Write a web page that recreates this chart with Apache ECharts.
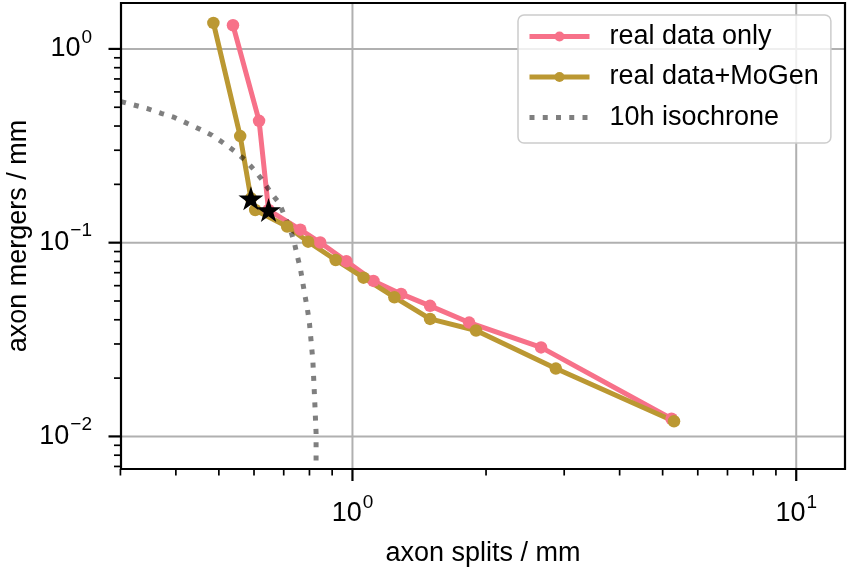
<!DOCTYPE html>
<html><head><meta charset="utf-8">
<script src="https://cdn.jsdelivr.net/npm/echarts@6/dist/echarts.min.js"></script>
<style>html,body{margin:0;padding:0;background:#fff}#c{width:849px;height:571px}</style>
</head><body><div id="c"></div>
<script>
const FONT = '"Liberation Sans", Arial, Helvetica, sans-serif';

// ---- data ----
const realX  = [0.538, 0.616, 0.647, 0.763, 0.846, 0.969, 1.115, 1.287, 1.496, 1.832, 2.661, 5.236];
const realY  = [1.325, 0.4255, 0.1474, 0.1167, 0.1002, 0.0802, 0.0635, 0.0544, 0.0472, 0.0387, 0.0288, 0.01234];
const mogenX = [0.486, 0.5585, 0.5905, 0.6037, 0.7127, 0.7946, 0.9165, 1.059, 1.243, 1.496, 1.899, 2.873, 5.304];
const mogenY = [1.362, 0.3548, 0.1694, 0.1474, 0.1212, 0.1012, 0.0814, 0.066, 0.0523, 0.0404, 0.0352, 0.0224, 0.01198];
const isoX = [0.301, 0.344, 0.372, 0.397, 0.425, 0.452, 0.482, 0.511, 0.542, 0.573, 0.601, 0.629, 0.655, 0.684, 0.724, 0.739, 0.750, 0.763, 0.772, 0.782, 0.792, 0.800, 0.814, 0.822, 0.828, 0.828];
const isoY = [0.535, 0.493, 0.464, 0.443, 0.412, 0.386, 0.359, 0.328, 0.297, 0.267, 0.237, 0.208, 0.181, 0.160, 0.117, 0.101, 0.0865, 0.0738, 0.0629, 0.0531, 0.045, 0.0384, 0.0249, 0.01546, 0.0104, 0.0071];
const starX = [0.647, 0.5905];
const starY = [0.1474, 0.1694];

const seriesNames = ['real data only', 'real data+MoGen', '10h isochrone'];
const xMajor = [1, 10];
const xMajorExp = ['0', '1'];
const xMinor = [0.3, 0.4, 0.5, 0.6, 0.7, 0.8, 0.9, 2, 3, 4, 5, 6, 7, 8, 9];
const yMajor = [0.01, 0.1, 1];
const yMajorExp = ['\u22122', '\u22121', '0'];
const yMinor = [0.007, 0.008, 0.009, 0.02, 0.03, 0.04, 0.05, 0.06, 0.07, 0.08, 0.09, 0.2, 0.3, 0.4, 0.5, 0.6, 0.7, 0.8, 0.9];
const tickBase = '10';
const xTitle = 'axon splits / mm';
const yTitle = 'axon mergers / mm';

const X_MIN = 0.3009, X_MAX = 12.88, Y_MIN = 0.00679, Y_MAX = 1.726;

const pair = (xs, ys) => xs.map((x, i) => [x, ys[i]]);
const STAR = 'path://M50,0 L61.8,35.4 L100,35.4 L69.1,57.3 L80.9,92.7 L50,70.8 L19.1,92.7 L30.9,57.3 L0,35.4 L38.2,35.4 Z';
const PINK = '#f77189', GOLD = '#bb9832', ISO = 'rgba(0,0,0,0.5)';
const BASE_FS = 27, EXP_FS = 19;

const mctx = document.createElement('canvas').getContext('2d');
function textW(t, fs) { mctx.font = fs + 'px ' + FONT; return mctx.measureText(t).width; }

const chart = echarts.init(document.getElementById('c'), null, { renderer: 'canvas' });

function txt(t, x, y, fs, align) {
  return { type: 'text', style: { text: t, x: x, y: y, align: align, verticalAlign: 'middle', fontFamily: FONT, fontSize: fs, fill: '#000' } };
}

function gridUnder(params, api) {
  const cs = params.coordSys;
  const ch = [];
  xMajor.forEach(v => {
    const px = api.coord([v, Y_MIN])[0];
    ch.push({ type: 'line', shape: { x1: px, y1: cs.y, x2: px, y2: cs.y + cs.height }, style: { stroke: '#b0b0b0', lineWidth: 2 } });
  });
  yMajor.forEach(v => {
    const py = api.coord([X_MIN, v])[1];
    ch.push({ type: 'line', shape: { x1: cs.x, y1: py, x2: cs.x + cs.width, y2: py }, style: { stroke: '#b0b0b0', lineWidth: 2 } });
  });
  return { type: 'group', children: ch };
}

function axesOver(params, api) {
  const cs = params.coordSys;
  const ch = [];
  const bottom = cs.y + cs.height, left = cs.x;
  const wb = textW(tickBase, BASE_FS);
  ch.push({ type: 'rect', shape: { x: cs.x, y: cs.y, width: cs.width, height: cs.height }, style: { fill: null, stroke: '#000', lineWidth: 2.2 } });
  xMajor.forEach((v, i) => {
    const px = api.coord([v, Y_MIN])[0];
    ch.push({ type: 'line', shape: { x1: px, y1: bottom, x2: px, y2: bottom + 12 }, style: { stroke: '#000', lineWidth: 2.2 } });
    const we = textW(xMajorExp[i], EXP_FS);
    const x0 = px - (wb + we + 1) / 2;
    ch.push(txt(tickBase, x0, bottom + 45, BASE_FS, 'left'));
    ch.push(txt(xMajorExp[i], x0 + wb + 1, bottom + 33.5, EXP_FS, 'left'));
  });
  xMinor.forEach(v => {
    const px = api.coord([v, Y_MIN])[0];
    ch.push({ type: 'line', shape: { x1: px, y1: bottom, x2: px, y2: bottom + 6.5 }, style: { stroke: '#000', lineWidth: 1.7 } });
  });
  yMajor.forEach((v, i) => {
    const py = api.coord([X_MIN, v])[1];
    ch.push({ type: 'line', shape: { x1: left - 12.5, y1: py, x2: left, y2: py }, style: { stroke: '#000', lineWidth: 2.2 } });
    const we = textW(yMajorExp[i], EXP_FS);
    const xr = left - 29;
    ch.push(txt(yMajorExp[i], xr, py - 11.5, EXP_FS, 'right'));
    ch.push(txt(tickBase, xr - we - 1, py, BASE_FS, 'right'));
  });
  yMinor.forEach(v => {
    const py = api.coord([X_MIN, v])[1];
    ch.push({ type: 'line', shape: { x1: left - 7, y1: py, x2: left, y2: py }, style: { stroke: '#000', lineWidth: 1.7 } });
  });
  ch.push(txt(xTitle, cs.x + cs.width / 2, 554, BASE_FS, 'center'));
  ch.push({ type: 'text', x: 19, y: cs.y + cs.height / 2, rotation: Math.PI / 2, style: { text: yTitle, x: 0, y: 0, align: 'center', verticalAlign: 'middle', fontFamily: FONT, fontSize: BASE_FS, fill: '#000' } });
  return { type: 'group', children: ch };
}

const option = {
  animation: false,
  backgroundColor: '#ffffff',
  grid: { left: 121, right: 4, top: 3, bottom: 102, containLabel: false },
  xAxis: { type: 'log', logBase: 10, min: X_MIN, max: X_MAX, show: false },
  yAxis: { type: 'log', logBase: 10, min: Y_MIN, max: Y_MAX, show: false },
  legend: {
    show: true, orient: 'vertical', left: 518, top: 15,
    padding: [8, 12, 12, 9],
    itemWidth: 60, itemHeight: 12.5, itemGap: 13.5,
    backgroundColor: 'rgba(255,255,255,0.8)', borderColor: '#cccccc', borderWidth: 1.5, borderRadius: 6,
    textStyle: { fontFamily: FONT, fontSize: 27, color: '#000', lineHeight: 27, padding: [0, 0, 0, 15] },
    data: [
      { name: seriesNames[0], lineStyle: { width: 5, color: PINK } },
      { name: seriesNames[1], lineStyle: { width: 5, color: GOLD } },
      { name: seriesNames[2], lineStyle: { width: 5, color: ISO, type: [5, 8.25], cap: 'butt' }, itemStyle: { color: 'rgba(0,0,0,0)', opacity: 0 } }
    ],
    selectedMode: false
  },
  series: [
    { type: 'custom', name: '_grid', coordinateSystem: 'cartesian2d', z: 1, silent: true, clip: false, data: [[1, 0.1]], renderItem: gridUnder },
    { name: seriesNames[0], type: 'line', data: pair(realX, realY), symbol: 'circle', symbolSize: 12.5, showSymbol: true,
      lineStyle: { color: PINK, width: 5, join: 'round' }, itemStyle: { color: PINK }, z: 2 },
    { name: seriesNames[1], type: 'line', data: pair(mogenX, mogenY), symbol: 'circle', symbolSize: 12.5, showSymbol: true,
      lineStyle: { color: GOLD, width: 5, join: 'round' }, itemStyle: { color: GOLD }, z: 2 },
    { name: seriesNames[2], type: 'line', data: pair(isoX, isoY), symbol: 'none', showSymbol: false,
      lineStyle: { color: ISO, width: 5, type: [5, 8.25], cap: 'butt' }, itemStyle: { color: ISO }, z: 2 },
    { type: 'scatter', name: '_stars', data: pair(starX, starY), symbol: STAR, symbolSize: [25, 24], itemStyle: { color: '#000', opacity: 1 }, z: 3 },
    { type: 'custom', name: '_axes', coordinateSystem: 'cartesian2d', z: 10, silent: true, clip: false, data: [[1, 0.1]], renderItem: axesOver }
  ]
};
chart.setOption(option);
</script></body></html>
